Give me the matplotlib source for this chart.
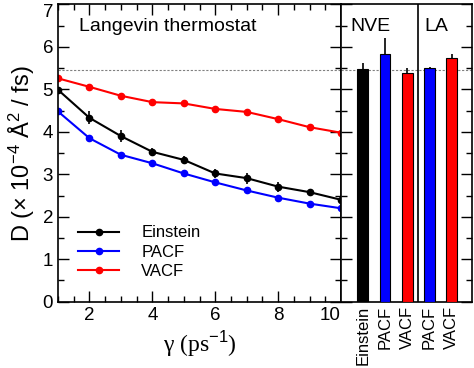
import matplotlib
matplotlib.use('Agg')
import matplotlib.pyplot as plt
import numpy as np
from matplotlib.ticker import MultipleLocator

plt.rcParams['font.family'] = ['Liberation Sans', 'DejaVu Sans']
plt.rcParams['mathtext.fontset'] = 'custom'
plt.rcParams['mathtext.rm'] = 'Liberation Sans'
plt.rcParams['mathtext.it'] = 'Liberation Sans:italic'

# Langevin thermostat data
gamma = [1, 2, 3, 4, 5, 6, 7, 8, 9, 10]
einstein = [4.99, 4.33, 3.90, 3.53, 3.34, 3.02, 2.91, 2.71, 2.58, 2.40]
einstein_err = [0.05, 0.15, 0.15, 0.08, 0.10, 0.10, 0.13, 0.12, 0.08, 0.10]
pacf = [4.48, 3.85, 3.46, 3.26, 3.02, 2.81, 2.62, 2.45, 2.31, 2.20]
pacf_err = [0.05, 0.06, 0.04, 0.04, 0.04, 0.04, 0.03, 0.03, 0.03, 0.03]
vacf = [5.26, 5.06, 4.85, 4.70, 4.67, 4.54, 4.47, 4.30, 4.11, 3.98]

# NVE / LA bars
bar_labels = ['Einstein', 'PACF', 'VACF', 'PACF', 'VACF']
bar_values = [5.48, 5.83, 5.38, 5.50, 5.73]
bar_err = [0.15, 0.38, 0.12, 0.03, 0.10]
bar_colors = ['black', 'blue', 'red', 'blue', 'red']
ref_level = 5.46

fig = plt.figure(figsize=(4.74, 3.68), dpi=100)
ax = fig.add_axes([0.1224, 0.1802, 0.597, 0.8076])
ax2 = fig.add_axes([0.7194, 0.1802, 0.2764, 0.8076])

# left panel
ax.axhline(ref_level, color='gray', ls=(0, (2, 1.5)), lw=0.8, zorder=1)
ax.errorbar(gamma, einstein, yerr=einstein_err, fmt='none', ecolor='black', elinewidth=1.2, capsize=0)
ax.errorbar(gamma, pacf, yerr=pacf_err, fmt='none', ecolor='blue', elinewidth=1.2, capsize=0)
ax.plot(gamma, einstein, 'o-', color='black', lw=1.5, ms=4.5, label='Einstein')
ax.plot(gamma, pacf, 'o-', color='blue', lw=1.5, ms=4.5, label='PACF')
ax.plot(gamma, vacf, 'o-', color='red', lw=1.5, ms=4.5, label='VACF')

ax.set_xlim(1, 10)
ax.set_ylim(0, 7)
ax.xaxis.set_major_locator(MultipleLocator(2))
ax.xaxis.set_minor_locator(MultipleLocator(0.5))
ax.yaxis.set_minor_locator(MultipleLocator(0.5))
ax.tick_params(which='both', direction='in', top=True, right=True, labelsize=13.5, width=1)
ax.tick_params(which='major', length=8)
ax.tick_params(which='minor', length=4.5)
ax.set_xticks([2, 4, 6, 8, 10])
ax.set_yticks([0, 1, 2, 3, 4, 5, 6, 7])
ax.get_xticklabels()[-1].set_horizontalalignment('right')
ax.get_yticklabels()[-1].set_verticalalignment('top')
ax.set_xlabel(r'γ (ps$^{-1}$)', fontsize=17, family=['Liberation Serif', 'DejaVu Serif'], labelpad=4)
ax.set_ylabel(r'D (× 10$^{-4}$ Å$^{2}$ / fs)', fontsize=17, labelpad=4)
ax.text(0.074, 0.911, 'Langevin thermostat', transform=ax.transAxes, fontsize=14, va='baseline')
ax.legend(loc='lower left', bbox_to_anchor=(0.07, 0.077), frameon=False, fontsize=12,
          handlelength=2.5, handletextpad=1.3, labelspacing=0.25, borderpad=0, borderaxespad=0)
for s in ax.spines.values():
    s.set_linewidth(1.2)

# right panel
pos = np.arange(1, len(bar_values) + 1)
ax2.axhline(ref_level, color='gray', ls=(0, (2, 1.5)), lw=0.8, zorder=1)
ax2.errorbar(pos, bar_values, yerr=bar_err, fmt='none', ecolor='black', elinewidth=1.2, capsize=0, zorder=2)
ax2.bar(pos, bar_values, width=0.48, color=bar_colors, edgecolor='black', lw=0.8, zorder=3)
ax2.axvline(3.5, color='black', lw=1.2)
ax2.set_xlim(0.02, 5.91)
ax2.set_ylim(0, 7)
ax2.set_xticks(pos)
ax2.set_xticklabels(bar_labels, rotation=90, fontsize=12)
ax2.yaxis.set_major_locator(MultipleLocator(1))
ax2.yaxis.set_minor_locator(MultipleLocator(0.5))
ax2.tick_params(axis='x', length=0, pad=3)
ax2.tick_params(axis='y', which='both', direction='in', left=True, right=True, labelleft=False, width=1)
ax2.tick_params(axis='y', which='major', length=8)
ax2.tick_params(axis='y', which='minor', length=4.5)
ax2.text(0.069, 0.911, 'NVE', transform=ax2.transAxes, fontsize=14, va='baseline')
ax2.text(0.64, 0.911, 'LA', transform=ax2.transAxes, fontsize=14, va='baseline')
for s in ax2.spines.values():
    s.set_linewidth(1.2)

fig.savefig('out.png', dpi=100)
